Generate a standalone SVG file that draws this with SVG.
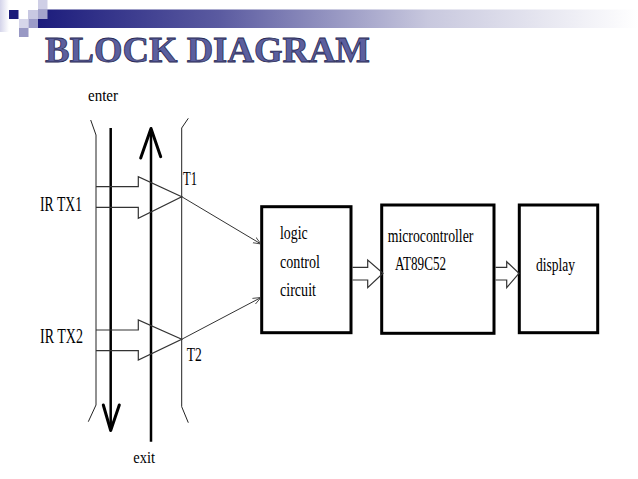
<svg xmlns="http://www.w3.org/2000/svg" width="638" height="479" viewBox="0 0 638 479">
<defs>
<linearGradient id="bar" x1="0" y1="0" x2="1" y2="0">
<stop offset="0" stop-color="#1c1c7c"/>
<stop offset="0.3" stop-color="#5a5aa0"/>
<stop offset="0.65" stop-color="#c8c8de"/>
<stop offset="1" stop-color="#ffffff"/>
</linearGradient>
<linearGradient id="fadeL" x1="0" y1="0" x2="1" y2="0">
<stop offset="0" stop-color="#d4d4ea"/>
<stop offset="1" stop-color="#ffffff"/>
</linearGradient>
<marker id="open" viewBox="0 0 10 10" refX="10" refY="5" markerWidth="8" markerHeight="8" orient="auto" markerUnits="userSpaceOnUse">
<path d="M0,1 L10,5 L0,9" fill="none" stroke="#333" stroke-width="1"/>
</marker>
</defs>
<style>
.lbl{font-family:"Liberation Serif","Times New Roman",serif;fill:#000;}
.thin{stroke:#222;stroke-width:1;fill:none;}
.thick{stroke:#000;stroke-width:2.5;fill:none;}
.chev{stroke:#000;stroke-width:3;fill:none;stroke-linecap:round;stroke-linejoin:round;}
.blk{stroke:#333;stroke-width:1.2;fill:none;}
.box{stroke:#000;stroke-width:3;fill:#fff;}
.con{stroke:#333;stroke-width:1;fill:none;}
</style>
<rect width="638" height="479" fill="#fff"/>
<g id="decoration">
<rect x="0" y="0" width="9" height="32" fill="url(#fadeL)"/>
<rect x="38" y="9.5" width="600" height="18.5" fill="url(#bar)"/>
<rect x="9" y="10" width="9.5" height="9" fill="#1c1c7a"/>
<rect x="28" y="10" width="10" height="9" fill="#c8c8e2"/>
<rect x="38" y="0" width="9.5" height="9.5" fill="#cfcfe6"/>
<rect x="38" y="9.5" width="9.5" height="9.5" fill="#a4a4cc"/>
<rect x="19" y="19" width="9.5" height="9" fill="#d6d6ea"/>
<rect x="28.5" y="19" width="9.5" height="9" fill="#9c9cc8"/>
<rect x="19" y="28" width="9.5" height="9" fill="#9898c4"/>
</g>
<g id="title">
<text x="45" y="62" font-family="'Liberation Serif','Times New Roman',serif" font-weight="bold" font-size="35" textLength="325" lengthAdjust="spacingAndGlyphs" fill="#5b5f9e" stroke="#2a2a55" stroke-width="0.8">BLOCK DIAGRAM</text>
</g>
<g id="lanes">
<path class="thin" d="M90.7,120 L96,135 L96,405 L88.3,421.7"/>
<path class="thin" d="M188.3,118.3 L181.7,128 L181.7,406.7 L188.3,422.7"/>
<line class="thick" x1="110.7" y1="128" x2="110.7" y2="430"/>
<path class="chev" d="M103.3,405 L110.7,430.5 L119.3,405"/>
<line class="thick" x1="151" y1="130" x2="151" y2="441.7"/>
<path class="chev" d="M140.7,158 L151,128.5 L160.7,156.7"/>
<text class="lbl" x="88" y="101" font-size="16" textLength="30" lengthAdjust="spacingAndGlyphs">enter</text>
<text class="lbl" x="133.3" y="462.7" font-size="16" textLength="21.7" lengthAdjust="spacingAndGlyphs">exit</text>
</g>
<g id="ir-tx1">
<text class="lbl" x="40" y="211" font-size="21" textLength="42" lengthAdjust="spacingAndGlyphs">IR TX1</text>
</g>
<g id="ir-tx2">
<text class="lbl" x="40" y="343.3" font-size="21" textLength="43" lengthAdjust="spacingAndGlyphs">IR TX2</text>
</g>
<g id="t1">
<text class="lbl" x="183" y="185" font-size="19" textLength="14" lengthAdjust="spacingAndGlyphs">T1</text>
</g>
<g id="t2">
<text class="lbl" x="186.7" y="361" font-size="19" textLength="15" lengthAdjust="spacingAndGlyphs">T2</text>
</g>
<g id="logic">
<rect class="box" x="261.7" y="206.7" width="89.3" height="126"/>
<text class="lbl" x="280" y="239.3" font-size="18" textLength="27.7" lengthAdjust="spacingAndGlyphs">logic</text>
<text class="lbl" x="280" y="268.3" font-size="18" textLength="40" lengthAdjust="spacingAndGlyphs">control</text>
<text class="lbl" x="280" y="296" font-size="18" textLength="36" lengthAdjust="spacingAndGlyphs">circuit</text>
</g>
<g id="microcontroller">
<rect class="box" x="381.7" y="205" width="112.3" height="128.3"/>
<text class="lbl" x="387.7" y="241.7" font-size="18" textLength="85.7" lengthAdjust="spacingAndGlyphs">microcontroller</text>
<text class="lbl" x="395" y="270" font-size="18" textLength="51" lengthAdjust="spacingAndGlyphs">AT89C52</text>
</g>
<g id="display">
<rect class="box" x="519.3" y="205" width="78.4" height="127.7"/>
<text class="lbl" x="536" y="270.7" font-size="18" textLength="39" lengthAdjust="spacingAndGlyphs">display</text>
</g>
<g id="connectors">
<path class="blk" d="M96,186.7 L138.3,186.7 L138.3,176.7 L181.7,196.7 L138.3,218.3 L138.3,207.3 L96,207.3"/>
<path class="blk" d="M96,330 L138.3,330 L138.3,320 L181.7,339.3 L138.3,360 L138.3,350.7 L96,350.7"/>
<line class="con" x1="181.7" y1="196.7" x2="261" y2="244" marker-end="url(#open)"/>
<line class="con" x1="181.7" y1="339.3" x2="261" y2="297.5" marker-end="url(#open)"/>
<path class="blk" d="M352.5,267.3 L367.7,267.3 L367.7,260 L383,273.3 L367.7,287.7 L367.7,280 L352.5,280"/>
<path class="blk" d="M495.5,267.3 L506.7,267.3 L506.7,261.7 L519,273.3 L506.7,287.7 L506.7,280 L495.5,280"/>
</g>
</svg>
